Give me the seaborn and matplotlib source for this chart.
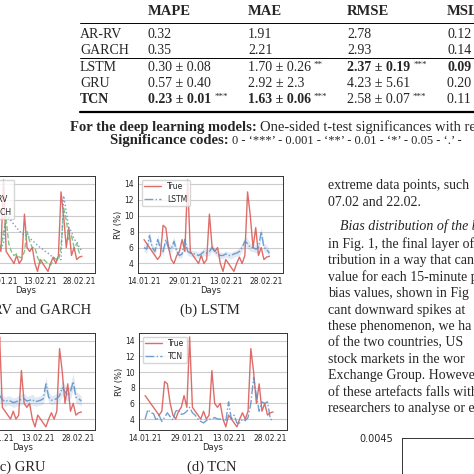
import matplotlib
matplotlib.use("Agg")
import matplotlib.pyplot as plt
import numpy as np
import pandas as pd
import seaborn as sns

# ---- table data
metrics = ["MAPE", "MAE", "RMSE", "MSL"]
models = ["AR-RV", "GARCH", "LSTM", "GRU", "TCN"]
cells = [["0.32", "1.91", "2.78", "0.12"],
         ["0.35", "2.21", "2.93", "0.14"],
         ["0.30 ± 0.08", "1.70 ± 0.26", "2.37 ± 0.19", "0.09"],
         ["0.57 ± 0.40", "2.92 ± 2.3", "4.23 ± 5.61", "0.20 ±"],
         ["0.23 ± 0.01", "1.63 ± 0.06", "2.58 ± 0.07", "0.11 ±"]]
stars = [["", "", "", ""], ["", "", "", ""],
         ["", "**", "***", ""], ["", "", "", ""],
         ["***", "***", "***", ""]]
bold = [[0, 0, 0, 0], [0, 0, 0, 0], [0, 0, 1, 1], [0, 0, 0, 0], [1, 1, 0, 0]]

# ---- series data (daily RV %, 14.01.21 .. 28.02.21)
true = [7.0, 6.5, 6.0, 5.5, 5.0, 4.5, 5.0, 8.8, 8.5, 6.0, 4.5, 4.0, 5.0, 5.5, 7.0, 5.5,
        14.5, 5.5, 5.0, 4.5, 4.0, 5.0, 4.0, 4.5, 10.2, 6.0, 5.5, 6.0, 4.0, 3.0, 4.5, 4.0,
        3.5, 3.0, 4.0, 4.8, 4.0, 5.0, 13.0, 10.0, 6.0, 8.5, 5.0, 6.0, 4.5, 4.8, 4.9]
arrv = [6.5, 6.8, 6.3, 5.9, 5.5, 5.1, 5.0, 5.8, 7.8, 7.6, 6.2, 5.0, 4.8, 5.3, 6.2, 6.0,
        8.0, 9.5, 6.5, 5.5, 5.0, 5.2, 4.8, 4.7, 5.5, 8.0, 6.8, 6.0, 6.0, 4.8, 4.0, 4.6,
        4.3, 4.0, 3.8, 4.4, 4.6, 4.4, 6.0, 11.0, 9.5, 7.0, 7.5, 6.0, 6.5, 5.3, 5.2]
garch = [6.0, 6.2, 6.1, 5.9, 5.8, 5.6, 5.5, 5.6, 6.5, 6.8, 6.5, 6.2, 6.0, 5.9, 6.0, 6.0,
         6.5, 10.5, 9.8, 9.3, 8.9, 8.5, 8.1, 7.8, 7.5, 7.6, 7.2, 6.9, 6.6, 6.3, 6.0, 5.8,
         5.5, 5.3, 5.0, 4.8, 4.6, 4.4, 4.5, 12.5, 10.5, 8.5, 8.0, 7.0, 6.8, 6.0, 5.6]
lstm = [6.0, 5.8, 7.5, 6.0, 5.5, 7.0, 6.0, 5.5, 7.0, 6.0, 5.8, 6.8, 5.5, 5.0, 5.2, 7.0,
        5.5, 5.3, 5.2, 5.2, 5.0, 5.2, 5.5, 5.3, 5.5, 6.0, 5.5, 5.2, 5.0, 5.0, 5.2, 5.0,
        5.0, 5.2, 5.3, 5.5, 6.0, 6.8, 6.5, 6.0, 6.0, 5.8, 6.0, 8.0, 6.0, 5.8, 5.3]
lstm_sd = [0.5, 0.5, 0.7, 0.5, 0.5, 0.6, 0.5, 0.5, 0.6, 0.5, 0.5, 0.6, 0.5, 0.4, 0.4, 0.6,
           0.5, 0.4, 0.4, 0.4, 0.4, 0.4, 0.5, 0.4, 0.5, 0.5, 0.4, 0.4, 0.4, 0.4, 0.4, 0.4,
           0.4, 0.4, 0.4, 0.5, 0.5, 0.6, 0.6, 0.5, 0.5, 0.5, 0.5, 0.7, 0.5, 0.5, 0.4]
gru = [6.8, 6.5, 6.9, 6.4, 6.2, 6.7, 6.3, 6.2, 6.6, 6.8, 6.3, 6.5, 6.2, 6.4, 6.6, 6.3,
       7.0, 6.5, 6.2, 6.4, 6.3, 6.1, 6.2, 6.4, 6.5, 6.6, 6.3, 6.4, 6.5, 6.2, 6.3, 6.4,
       6.6, 8.5, 6.8, 6.4, 6.5, 6.6, 7.0, 8.0, 7.5, 7.0, 7.5, 8.8, 6.8, 6.6, 6.3]
gru_sd = [0.6, 0.6, 0.7, 0.6, 0.6, 0.7, 0.6, 0.6, 0.7, 0.7, 0.6, 0.6, 0.6, 0.6, 0.7, 0.6,
          0.8, 0.6, 0.6, 0.6, 0.6, 0.6, 0.6, 0.6, 0.7, 0.7, 0.6, 0.6, 0.7, 0.6, 0.6, 0.6,
          0.7, 1.0, 0.7, 0.6, 0.6, 0.7, 0.8, 1.0, 0.9, 0.8, 0.9, 1.1, 0.7, 0.7, 0.6]
tcn = [4.0, 5.2, 4.8, 4.7, 3.8, 4.5, 3.7, 4.2, 4.8, 4.3, 3.9, 5.0, 5.2, 4.6, 4.7, 5.0,
       5.5, 4.8, 4.5, 4.0, 3.7, 3.5, 3.8, 4.0, 4.0, 4.2, 4.0, 4.0, 3.9, 3.7, 6.2, 4.0,
       4.5, 3.5, 3.5, 4.0, 3.8, 4.2, 6.0, 9.3, 7.0, 5.0, 6.2, 6.0, 6.2, 4.0, 3.8]
day_ticks = [0, 15, 30, 45]
day_labels = ["14.01.21", "29.01.21", "13.02.21", "28.02.21"]
days = np.arange(len(true))

sns.set_style("whitegrid")
plt.rcParams["font.family"] = ["DejaVu Sans"]
SERIF = "Liberation Serif"
RED, BLUE, GREEN = "#d9534f", "#5b8fc7", "#6dbb6d"

W = H = 474
fig = plt.figure(figsize=(4.74, 4.74), dpi=100)
renderer = fig.canvas.get_renderer()


def T(x, y, s, **kw):
    kw.setdefault("family", SERIF)
    kw.setdefault("va", "baseline")
    return fig.text(x / W, 1 - y / H, s, **kw)


def right_edge(t):
    # x pixel (from left) where a drawn text ends
    return t.get_window_extent(renderer).x1


def hline(y, x0, x1, lw):
    fig.add_artist(plt.Line2D([x0 / W, x1 / W], [1 - y / H, 1 - y / H], color="black", lw=lw))


# ---- table (y values are baselines)
cols_x = [148, 248, 347, 447]
rows_y = [38, 54, 71, 87, 103]
for cx, m in zip(cols_x, metrics):
    T(cx, 15, m, fontsize=10.5, weight="bold")
hline(23, 80, 474, 0.7)
hline(58, 80, 474, 0.7)
hline(112, 80, 474, 1.6)
for i, (m, ry) in enumerate(zip(models, rows_y)):
    T(80, ry, m, fontsize=10, weight="bold" if m == "TCN" else "normal")
    for j, cx in enumerate(cols_x):
        t = T(cx, ry, cells[i][j], fontsize=10, weight="bold" if bold[i][j] else "normal")
        if stars[i][j]:
            T(right_edge(t) + 3, ry - 4, stars[i][j], fontsize=6.5)
t = T(70, 131, "For the deep learning models:", fontsize=10.5, weight="bold")
T(right_edge(t) + 3, 131, "One-sided t-test significances with resp", fontsize=10.5)
t = T(110, 144, "Significance codes:", fontsize=10.5, weight="bold")
T(right_edge(t) + 3, 144, "0 - ‘***’ - 0.001 - ‘**’ - 0.01 - ‘*’ - 0.05 - ‘.’ -", fontsize=9)

# ---- body text on the right
T(328, 189, "extreme data points, such", fontsize=10)
T(328, 206, "07.02 and 22.02.", fontsize=10)
T(340, 230, "Bias distribution of the b", fontsize=10, style="italic")
para = ["in Fig. 1, the final layer of t", "tribution in a way that can", "value for each 15-minute p",
        "bias values, shown in Fig", "cant downward spikes at", "these phenomenon, we ha",
        "of the two countries, US", "stock markets in the wor", "Exchange Group. Howeve",
        "of these artefacts falls with", "researchers to analyse or e"]
for k, line in enumerate(para):
    T(328, 248 + k * 16.4, line, fontsize=10)


def panel(left, top, right, bottom, series, ylim, caption, capx, capy):
    ax = fig.add_axes([left / W, 1 - bottom / H, (right - left) / W, (bottom - top) / H])
    for s in series:
        df = pd.DataFrame({"day": days, "rv": s["y"]})
        if "sd" in s:
            lo = np.array(s["y"]) - np.array(s["sd"])
            hi = np.array(s["y"]) + np.array(s["sd"])
            ax.fill_between(days, lo, hi, color=s["c"], alpha=0.18, lw=0)
        sns.lineplot(data=df, x="day", y="rv", ax=ax, color=s["c"], lw=1.0,
                     linestyle=s["ls"], alpha=0.85, label=s["label"])
    ax.set_xlim(-2.2, 51)
    ax.set_ylim(*ylim)
    ax.set_yticks([4, 6, 8, 10, 12, 14])
    ax.set_xticks(day_ticks)
    ax.set_xticklabels(day_labels)
    ax.grid(axis="x", visible=False)
    ax.tick_params(labelsize=5.5, length=2, pad=1)
    ax.set_xlabel("Days", fontsize=6, labelpad=0)
    ax.set_ylabel("RV (%)", fontsize=6, labelpad=1)
    for sp in ax.spines.values():
        sp.set_color("#333333")
        sp.set_linewidth(0.7)
    ax.legend(loc="upper left", fontsize=5.5, frameon=True, handlelength=2.2, borderpad=0.3)
    T(capx, capy + 4, caption, fontsize=10.5, ha="center")
    return ax


tr = {"y": true, "c": RED, "ls": "-", "label": "True"}
panel(-44, 176, 95, 273,
      [tr, {"y": arrv, "c": GREEN, "ls": "--", "label": "AR-RV"},
       {"y": garch, "c": BLUE, "ls": ":", "label": "GARCH"}],
      (2.8, 15), "(a) AR-RV and GARCH", 20, 310)
panel(138, 176, 283, 273, [tr, {"y": lstm, "sd": lstm_sd, "c": BLUE, "ls": "-.", "label": "LSTM"}],
      (2.8, 15), "(b) LSTM", 210, 310)
panel(-50, 333, 95, 430, [tr, {"y": gru, "sd": gru_sd, "c": BLUE, "ls": "-.", "label": "GRU"}],
      (2.6, 15), "(c) GRU", 20, 467)
panel(139, 333, 287, 430, [tr, {"y": tcn, "c": BLUE, "ls": "-.", "label": "TCN"}],
      (2.6, 15), "(d) TCN", 212, 467)

# ---- bias panel (bottom right, cut off at the page edge)
bias_ticks = [0.0040, 0.0045]
axb = fig.add_axes([402 / W, -0.2, 0.2, 0.2 + 1 - 438 / H])
axb.set_ylim(0.0030, 0.0045)
axb.set_yticks(bias_ticks)
axb.set_yticklabels(["0.0040", "0.0045"])
axb.set_xticks([])
axb.grid(False)
axb.tick_params(labelsize=7, length=3)
axb.set_ylabel(r"$\widehat{\mu}$ (%)", fontsize=7)
for sp in axb.spines.values():
    sp.set_color("#333333")
    sp.set_linewidth(0.7)

fig.savefig("out.png", dpi=100)
